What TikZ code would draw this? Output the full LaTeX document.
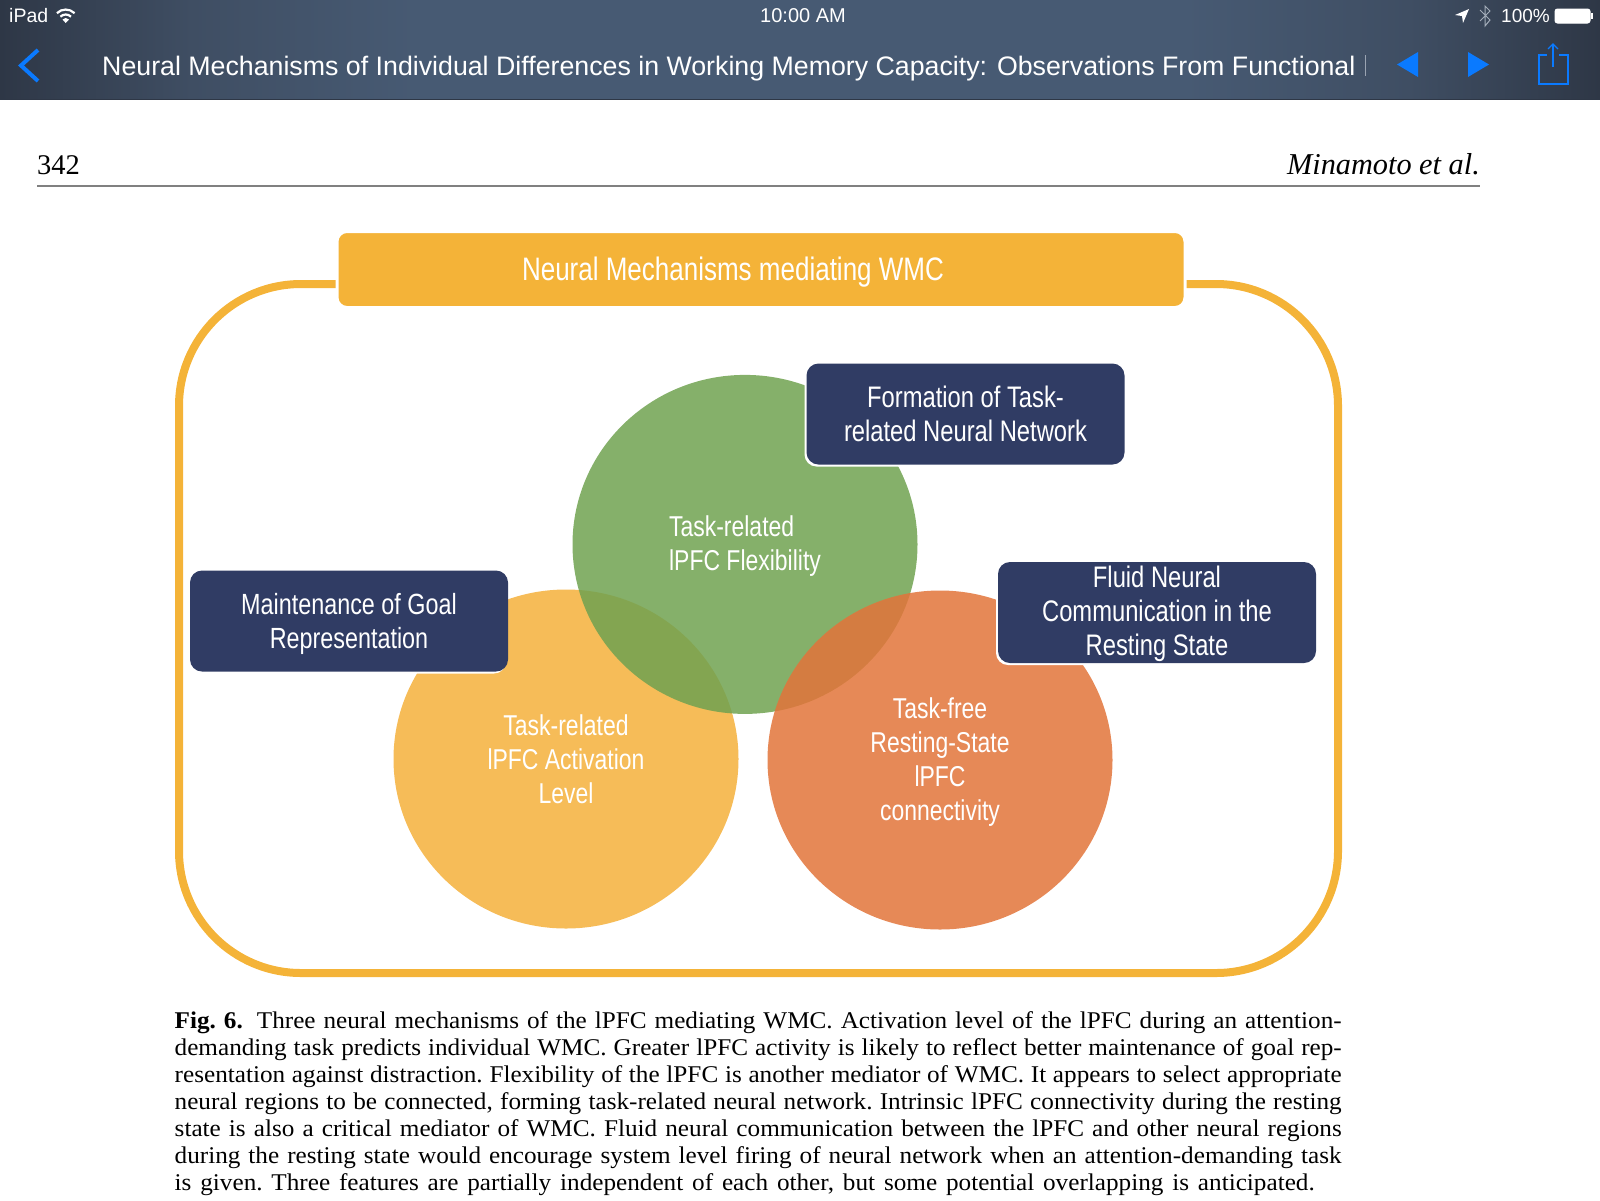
\documentclass[tikz,border=0pt]{standalone}
\usepackage{fontspec}
\setmainfont{Liberation Serif}
\newfontfamily\barfont{Liberation Sans}
\newfontfamily\narrowfont[FakeStretch=0.8]{Liberation Sans}
\newfontfamily\captionfont[FakeStretch=1.05]{Liberation Serif}
\usetikzlibrary{calc,shadows,shapes.geometric}
\definecolor{framecol}{HTML}{F4B338}
\definecolor{navycol}{HTML}{303C64}
\definecolor{greencol}{HTML}{70A250}
\definecolor{yellowcol}{HTML}{F6BC58}
\definecolor{orangecol}{HTML}{E2743A}
\definecolor{bluecol}{HTML}{0A7AFF}
\definecolor{baredge}{HTML}{2E3746}
\definecolor{barmid}{HTML}{3F4E63}
\definecolor{barflat}{HTML}{475A73}
\pgfdeclarehorizontalshading{barshade}{100bp}{color(0bp)=(baredge); color(25bp)=(baredge); color(31bp)=(barmid); color(38bp)=(barflat); color(62bp)=(barflat); color(69bp)=(barmid); color(75bp)=(baredge); color(100bp)=(baredge)}
\def\downstrut{\rule{0pt}{25pt}}
\tikzset{
	venn/.style={ellipse, minimum width=345pt, minimum height=339pt, inner sep=0pt, fill opacity=0.85, text opacity=1, text=white, align=center, font=\narrowfont\fontsize{28.7}{34}\selectfont},
	navybox/.style={rectangle, rounded corners=12pt, minimum width=318pt, minimum height=101pt, inner sep=0pt, fill=navycol, text=white, align=center, font=\narrowfont\fontsize{29.7}{34}\selectfont, general shadow={fill=white, shadow xshift=-2pt, shadow yshift=-2pt}},
	statustext/.style={text=white, inner sep=0pt, font=\barfont\fontsize{19.5}{24}\selectfont}
}
\begin{document}
\begin{tikzpicture}[x=1pt, y=-1pt]
	\useasboundingbox (0, 0) rectangle (1600, 1200);
	%%%%% BAR %%%%%
	\shade[shading=barshade] (0, 0) rectangle (1600, 99);
	\draw[line width=1pt, color=baredge] (0, 99.5) -- (1600, 99.5);
	
	\node[statustext, anchor=west] (ipad) at (9, 16) {iPad};
	\node[statustext, font=\barfont\fontsize{20}{24}\selectfont] (clock) at (803, 16) {10:00 AM};
	\node[statustext, anchor=west, font=\barfont\fontsize{19}{24}\selectfont] (percent) at (1501, 16) {100\%};
	\node[text=white, inner sep=0pt, anchor=west, font=\barfont\fontsize{26.75}{32}\selectfont] (doctitle) at (102, 69) {Neural Mechanisms of Individual Differences in Working Memory Capacity: Observations From Functional};
	\draw[line width=1pt, color=white!45!barflat] (1365, 55) -- (1365, 76);
	
	% wifi
	\draw[line width=2.2pt, white] (56.9, 13.2) arc (225:315:12.5);
	\draw[line width=2.2pt, white] (60.4, 16.7) arc (225:315:7.5);
	\fill[white] (65.7, 23) -- (62.5, 19.5) -- (65.7, 18) -- (69, 19.5) -- cycle;
	% location and bluetooth
	\fill[white] (1455, 15) -- (1469, 9) -- (1463, 23) -- (1462, 16) -- cycle;
	\draw[line width=1pt, color=white!50!barflat] (1480, 10) -- (1490, 20) -- (1485, 26) -- (1485, 6) -- (1490, 11) -- (1480, 21);
	% battery
	\draw[line width=1pt, white, rounded corners=2.5pt, fill=white] (1555, 9) rectangle (1590, 23);
	\fill[white] (1591, 13) rectangle (1593, 19);
	
	\draw[line width=4pt, color=bluecol] (38, 50) -- (21, 65.5) -- (38, 81);
	\fill[bluecol] (1418, 52) -- (1397, 64.5) -- (1418, 77) -- cycle;
	\fill[bluecol] (1468, 52) -- (1489, 64.5) -- (1468, 77) -- cycle;
	\draw[line width=1.3pt, color=bluecol] (1547, 55) -- (1539, 55) -- (1539, 84) -- (1568, 84) -- (1568, 55) -- (1559, 55);
	\draw[line width=1.3pt, color=bluecol] (1553, 67) -- (1553, 44);
	\draw[line width=1.3pt, color=bluecol] (1548, 49) -- (1553, 44) -- (1558, 49);
	
	%%%%% HEADER %%%%%
	\node[inner sep=0pt, anchor=base west, font=\fontsize{28.5}{32}\selectfont] (pagenum) at (37, 174) {342};
	\node[inner sep=0pt, anchor=base east, font=\itshape\fontsize{30.3}{32}\selectfont] (authors) at (1480, 174) {Minamoto et al.};
	\draw[line width=1.5pt, color=black!50] (37, 186) -- (1480, 186);
	
	%%%%% FIGURE %%%%%
	\draw[line width=8pt, color=framecol, rounded corners=122pt] (179, 284) rectangle (1338, 973);
	
	\node[rectangle, rounded corners=10pt, minimum width=848pt, minimum height=76pt, inner sep=0pt, fill=framecol, draw=white, line width=3pt] (mechanisms) at (761, 269.5) {};
	\node[text=white, inner sep=0pt, font=\narrowfont\fontsize{32.5}{36}\selectfont] (mechanismstext) at (733, 272) {Neural Mechanisms mediating WMC};
	
	\node[venn, fill=yellowcol, fill opacity=1] (activation) at (566, 759) {Task-related\\lPFC Activation\\Level};
	\node[venn, fill=greencol, align=left] (flexibility) at (745, 544.4) {\downstrut Task-related\\lPFC Flexibility};
	\node[venn, fill=orangecol] (connectivity) at (940, 760) {\downstrut Task-free\\Resting-State\\lPFC\\connectivity};
	
	\node[navybox] (formation) at (965.5, 414) {Formation of Task-\\related Neural Network};
	\node[navybox, font=\narrowfont\fontsize{29.2}{34}\selectfont] (maintenance) at (349, 621) {\rule{0pt}{27pt}Maintenance of Goal\\Representation};
	\node[navybox] (fluid) at (1157, 612.5) {\downstrut Fluid Neural\\Communication in the\\Resting State};
	
	%%%%% CAPTION %%%%%
	\node[inner sep=0pt, anchor=north west, text width=1167pt, align=justify, font=\captionfont\fontsize{24}{26.9}\selectfont] (caption) at (174.5, 1011.5) {\frenchspacing\textbf{Fig.~6.}\hspace{6pt} Three neural mechanisms of the lPFC mediating WMC. Activation level of the lPFC during an attention-\linebreak demanding task predicts individual WMC. Greater lPFC activity is likely to reflect better maintenance of goal rep-\linebreak resentation against distraction. Flexibility of the lPFC is another mediator of WMC. It appears to select appropriate\linebreak neural regions to be connected, forming task-related neural network. Intrinsic lPFC connectivity during the resting\linebreak state is also a critical mediator of WMC. Fluid neural communication between the lPFC and other neural regions\linebreak during the resting state would encourage system level firing of neural network when an attention-demanding task\linebreak \makebox[1140pt][s]{is given. Three features are partially independent of each other, but some potential overlapping is anticipated.}};
\end{tikzpicture}
\end{document}
